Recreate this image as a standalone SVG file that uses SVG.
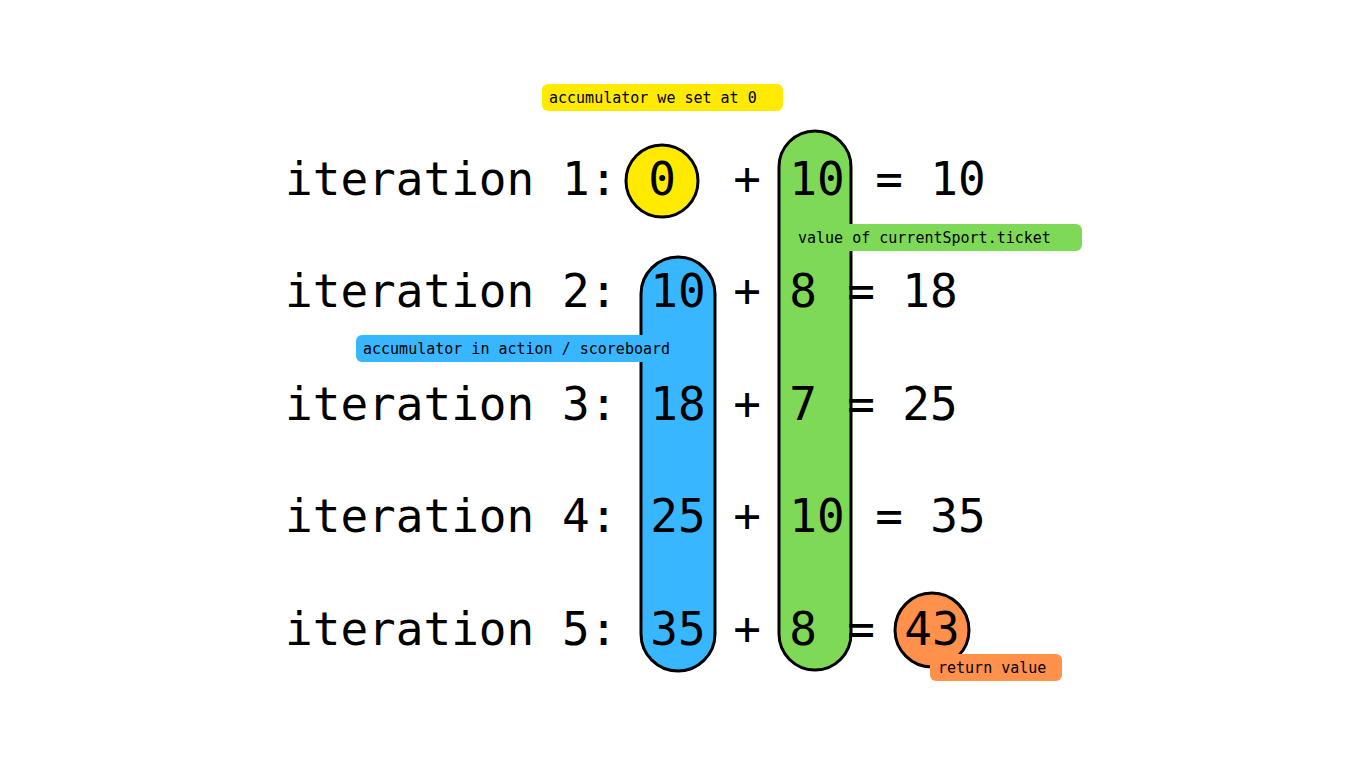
<svg xmlns="http://www.w3.org/2000/svg" width="1358" height="765" viewBox="0 0 1358 765">
<style>
.t{font-family:"DejaVu Sans Mono","Liberation Mono",monospace;font-size:46px;fill:#000}
.c{text-anchor:middle}
.l{font-family:"DejaVu Sans Mono","Liberation Mono",monospace;font-size:15px;fill:#000}
.s{stroke:#000;stroke-width:3}
</style>
<rect width="1358" height="765" fill="#fff"/>
<g id="shapes">
<rect id="blue" class="s" x="641" y="257" width="74" height="414" rx="37" fill="#38b6ff"/>
<rect id="green" class="s" x="779" y="131" width="72" height="539" rx="36" fill="#7ed957"/>
<circle id="yellow" class="s" cx="662" cy="181" r="36" fill="#ffea00"/>
<circle id="orange" class="s" cx="932" cy="630" r="37" fill="#ff914d"/>
</g>
<g id="labels">
<rect x="542" y="84" width="241" height="27" rx="6" fill="#ffea00"/>
<text class="l" x="549" y="103">accumulator we set at 0</text>
<rect x="787" y="224" width="295" height="27" rx="6" fill="#7ed957"/>
<text class="l" x="798" y="243">value of currentSport.ticket</text>
<rect x="356" y="335" width="350" height="27" rx="6" fill="#38b6ff"/>
<text class="l" x="363" y="354">accumulator in action / scoreboard</text>
<rect x="930" y="654" width="132" height="27" rx="6" fill="#ff914d"/>
<text class="l" x="938" y="673">return value</text>
</g>
<g id="rows">
<text class="t" x="285" y="195">iteration 1:</text>
<text class="t c" x="662" y="195">0</text><text class="t c" x="747" y="195">+</text><text class="t c" x="817" y="195">10</text><text class="t c" x="889" y="195">=</text><text class="t c" x="958" y="195">10</text>
<text class="t" x="285" y="307">iteration 2:</text>
<text class="t c" x="678" y="307">10</text><text class="t c" x="747" y="307">+</text><text class="t c" x="803" y="307">8</text><text class="t c" x="861" y="307">=</text><text class="t c" x="930" y="307">18</text>
<text class="t" x="285" y="420">iteration 3:</text>
<text class="t c" x="678" y="420">18</text><text class="t c" x="747" y="420">+</text><text class="t c" x="803" y="420">7</text><text class="t c" x="861" y="420">=</text><text class="t c" x="930" y="420">25</text>
<text class="t" x="285" y="532">iteration 4:</text>
<text class="t c" x="678" y="532">25</text><text class="t c" x="747" y="532">+</text><text class="t c" x="817" y="532">10</text><text class="t c" x="889" y="532">=</text><text class="t c" x="958" y="532">35</text>
<text class="t" x="285" y="645">iteration 5:</text>
<text class="t c" x="678" y="645">35</text><text class="t c" x="747" y="645">+</text><text class="t c" x="803" y="645">8</text><text class="t c" x="861" y="645">=</text><text class="t c" x="932" y="645">43</text>
</g>
</svg>
